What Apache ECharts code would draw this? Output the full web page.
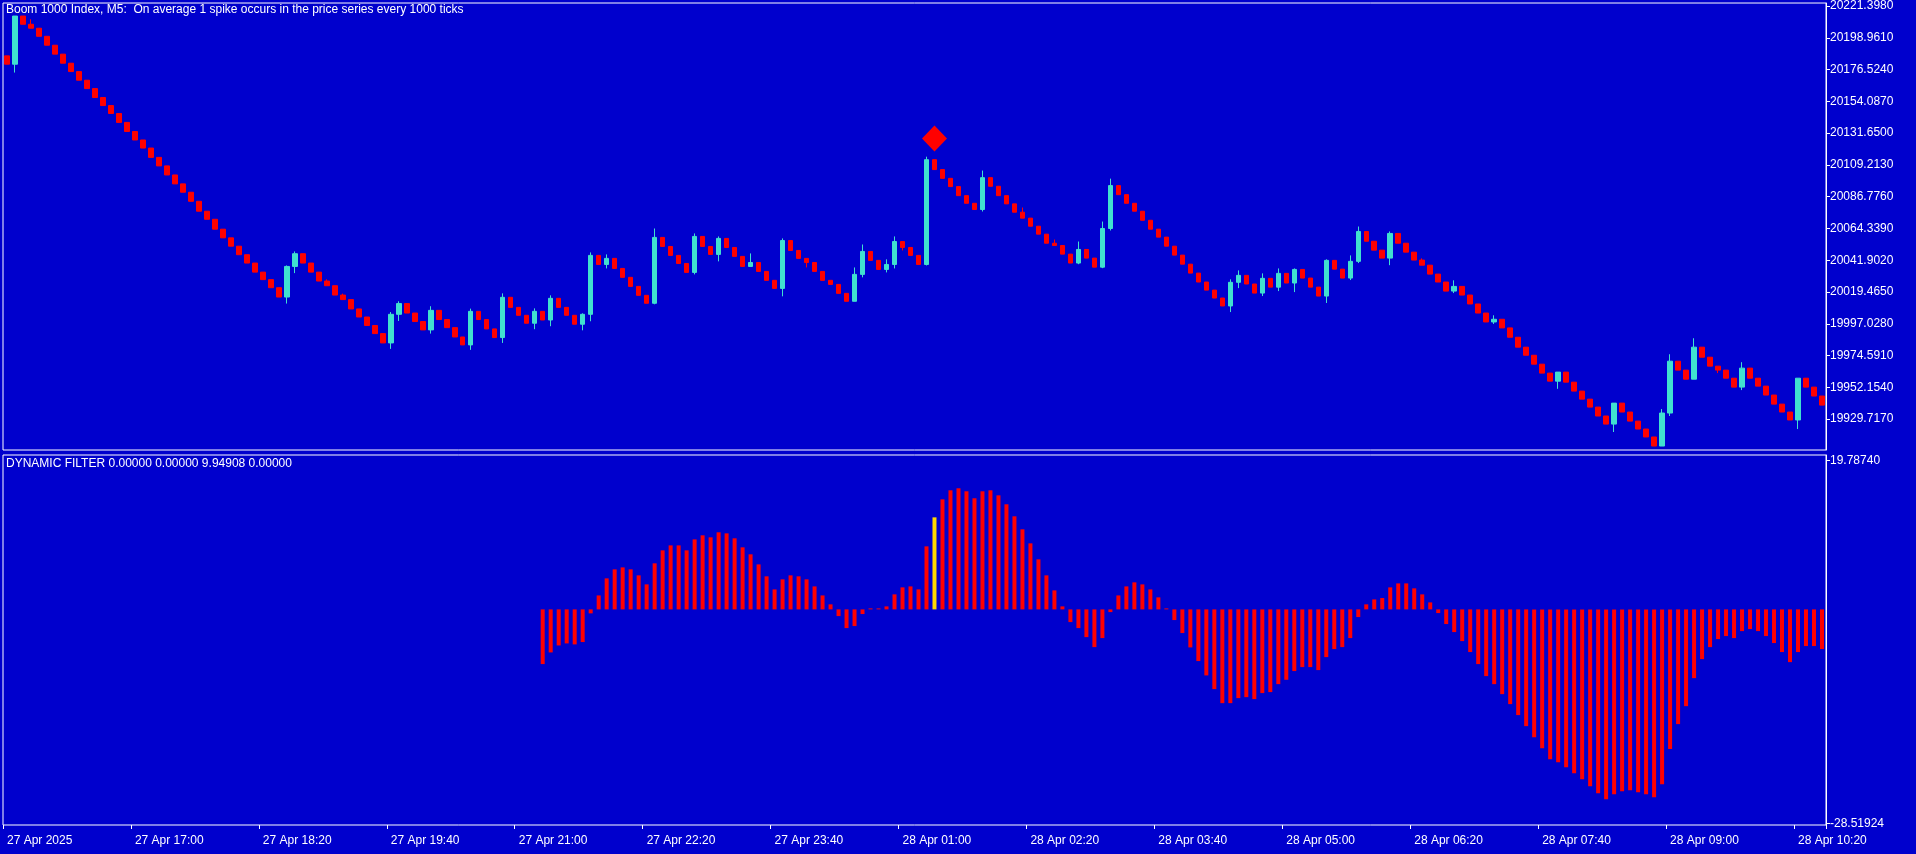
<!DOCTYPE html>
<html>
<head>
<meta charset="utf-8">
<script src="https://cdn.jsdelivr.net/npm/echarts@6/dist/echarts.min.js"></script>
<style>
html, body { margin: 0; padding: 0; background: #0000cd; }
#chart { width: 1916px; height: 854px; }
</style>
</head>
<body>
<div id="chart"></div>
<script>
// Boom 1000 Index M5 candles, 27 Apr 15:40 -> 28 Apr 10:35
var startTime = Date.UTC(2025, 3, 27, 15, 40);
var firstOpen = 20186.2;
var closes = [
    20180.3, 20214.3, 20208.5, 20205.7, 20200.0, 20193.7, 20187.4, 20181.0, 20175.1, 20169.0,
    20163.1, 20156.8, 20151.1, 20145.5, 20139.2, 20132.8, 20126.8, 20121.1, 20114.5, 20108.5,
    20102.1, 20095.8, 20089.9, 20083.5, 20076.5, 20070.8, 20063.8, 20057.7, 20051.8, 20045.8,
    20039.9, 20033.5, 20028.2, 20022.5, 20015.9, 20037.5, 20046.5, 20039.9, 20033.5, 20027.2,
    20023.9, 20017.3, 20014.1, 20007.5, 20001.8, 19995.8, 19990.1, 19983.5, 20003.7, 20011.3,
    20004.6, 19998.6, 19992.7, 20006.5, 20000.0, 19994.3, 19987.7, 19982.1, 20005.8, 20000.0,
    19993.4, 19987.3, 20015.7, 20008.6, 20003.0, 19997.4, 20005.8, 19999.7, 20015.0, 20008.6,
    20003.0, 19996.7, 20003.7, 20045.3, 20038.9, 20043.2, 20036.1, 20029.8, 20023.4, 20017.1,
    20011.5, 20058.0, 20051.6, 20045.3, 20039.6, 20033.3, 20058.7, 20051.6, 20046.0, 20057.3,
    20050.9, 20044.6, 20037.5, 20040.3, 20034.0, 20027.7, 20022.0, 20055.8, 20048.8, 20043.2,
    20040.3, 20034.0, 20027.7, 20024.8, 20018.5, 20012.9, 20031.9, 20048.1, 20041.8, 20035.4,
    20038.9, 20055.1, 20050.9, 20045.3, 20038.9, 20112.9, 20105.9, 20099.7, 20093.9, 20087.5,
    20082.1, 20077.7, 20100.2, 20094.1, 20087.5, 20081.7, 20075.8, 20071.6, 20065.9, 20060.3,
    20053.9, 20052.3, 20046.2, 20039.9, 20049.5, 20043.4, 20037.0, 20064.3, 20094.6, 20088.2,
    20082.1, 20076.5, 20070.1, 20063.8, 20058.2, 20051.8, 20045.5, 20039.1, 20032.8, 20026.5,
    20020.8, 20015.2, 20009.6, 20026.3, 20031.2, 20025.1, 20018.7, 20029.1, 20022.9, 20032.6,
    20025.8, 20035.4, 20029.3, 20022.9, 20016.6, 20041.8, 20035.6, 20029.3, 20041.1, 20062.2,
    20055.3, 20049.0, 20043.4, 20060.8, 20053.9, 20047.6, 20042.0, 20038.4, 20032.1, 20026.5,
    20020.1, 20023.4, 20017.3, 20011.0, 20004.6, 19998.3, 20000.2, 19994.1, 19987.5, 19980.5,
    19974.8, 19968.5, 19962.2, 19956.5, 19962.9, 19955.8, 19949.5, 19943.8, 19938.2, 19931.9,
    19926.2, 19941.0, 19934.7, 19928.3, 19922.7, 19917.1, 19910.7, 19934.0, 19970.6, 19964.3,
    19957.9, 19980.5, 19973.4, 19967.1, 19964.3, 19958.6, 19952.3, 19965.7, 19958.6, 19953.0,
    19946.7, 19940.3, 19934.7, 19929.1, 19958.6, 19952.3, 19946.0, 19939.6
];
// wick extremes beyond the body, by bar index
var wickHighs = {
    3: 20212.0, 35: 20038.2, 36: 20048.1, 40: 20028.4, 42: 20018.3, 48: 20005.3, 49: 20012.9,
    53: 20009.4, 58: 20007.7, 62: 20018.5, 66: 20007.9, 68: 20017.1, 72: 20004.4, 73: 20047.4,
    75: 20046.0, 81: 20064.3, 86: 20060.8, 89: 20058.7, 93: 20046.7, 97: 20057.3, 106: 20036.8,
    107: 20053.0, 110: 20042.5, 111: 20058.7, 115: 20115.0, 122: 20105.2, 127: 20079.1,
    131: 20056.5, 134: 20055.1, 137: 20069.2, 138: 20099.5, 153: 20028.4, 154: 20034.7,
    157: 20032.6, 159: 20036.1, 161: 20036.1, 165: 20042.5, 168: 20045.3, 169: 20065.7,
    173: 20062.2, 177: 20043.2, 181: 20027.7, 186: 20003.0, 207: 19936.8, 208: 19975.5,
    211: 19986.8, 217: 19969.9
};
var wickLows = {
    1: 20174.4, 35: 20011.3, 36: 20032.8, 48: 19979.3, 49: 19999.0, 53: 19990.1, 58: 19978.6,
    62: 19983.5, 66: 19993.2, 68: 19995.3, 72: 19992.4, 73: 19998.8, 75: 20036.1, 81: 20010.8,
    86: 20031.9, 89: 20041.1, 97: 20016.4, 100: 20036.8, 107: 20029.8, 110: 20033.3,
    111: 20036.1, 112: 20048.8, 115: 20038.2, 122: 20076.3, 134: 20039.1, 137: 20036.3,
    138: 20062.9, 153: 20005.3, 154: 20022.2, 157: 20016.6, 159: 20020.1, 161: 20019.4,
    165: 20011.7, 168: 20027.9, 169: 20039.9, 173: 20038.4, 181: 20018.7, 186: 19996.9,
    194: 19951.1, 201: 19920.6, 208: 19931.9, 214: 19962.2, 217: 19950.2, 224: 19922.7
};
var spikeSignal = [116, 20127.9];

// DYNAMIC FILTER histogram, starts at bar 67
var filterStart = 67;
var filterValues = [
    -7.28, -5.73, -4.80, -4.53, -4.66, -4.35, -0.53, 1.86, 4.13, 5.33,
    5.59, 5.33, 4.53, 3.33, 6.13, 7.86, 8.52, 8.52, 7.86, 9.32,
    9.86, 9.59, 10.26, 10.12, 9.46, 8.26, 7.33, 5.99, 4.40, 2.66,
    4.00, 4.53, 4.40, 4.00, 3.06, 1.86, 0.67, -0.89, -2.49, -2.22,
    -0.62, 0.13, 0.13, 0.40, 2.00, 2.93, 3.06, 2.66, 8.39, 12.25,
    14.65, 15.85, 16.12, 15.72, 14.79, 15.72, 15.85, 15.18, 13.99, 12.39,
    10.66, 8.79, 6.66, 4.53, 2.53, 0.40, -1.69, -2.49, -3.69, -5.02,
    -3.82, -0.36, 1.86, 3.06, 3.60, 3.33, 2.66, 1.60, 0.13, -1.42,
    -3.15, -5.06, -6.88, -8.79, -10.61, -12.48, -12.48, -11.81, -11.68, -11.94,
    -11.14, -11.01, -9.95, -9.37, -8.21, -7.68, -7.68, -8.08, -6.35, -5.28,
    -5.02, -3.82, -1.02, 0.67, 1.33, 1.51, 2.93, 3.46, 3.46, 2.80,
    2.00, 0.93, -0.49, -1.95, -3.02, -4.22, -5.68, -7.28, -8.88, -9.95,
    -11.28, -12.61, -14.07, -15.54, -17.01, -18.47, -19.94, -20.34, -21.00, -21.80,
    -22.60, -23.53, -24.46, -25.26, -24.60, -24.20, -24.06, -24.33, -24.60, -25.00,
    -23.27, -18.60, -15.27, -12.88, -9.15, -6.62, -5.02, -3.95, -3.55, -3.82,
    -2.89, -2.62, -2.89, -3.55, -4.48, -5.68, -7.02, -5.68, -4.88, -4.88,
    -5.28
];
var signalBar = 116;

var priceTicks = [20221.398, 20198.961, 20176.524, 20154.087, 20131.65, 20109.213, 20086.776,
    20064.339, 20041.902, 20019.465, 19997.028, 19974.591, 19952.154, 19929.717];
var filterTicks = [19.7874, -28.51924];

var months = ['Jan','Feb','Mar','Apr','May','Jun','Jul','Aug','Sep','Oct','Nov','Dec'];
function pad(n) { return n < 10 ? '0' + n : '' + n; }

var times = [];
var candles = [];
for (var i = 0; i < closes.length; i++) {
    times.push(startTime + i * 5 * 60000);
    var o = i === 0 ? firstOpen : closes[i - 1];
    var c = closes[i];
    var hi = Math.max(o, c, wickHighs[i] || -Infinity);
    var lo = Math.min(o, c, wickLows[i] || Infinity);
    candles.push([o, c, lo, hi]);
}
var filterData = times.map(function (t, i) {
    var v = i >= filterStart ? filterValues[i - filterStart] : '-';
    if (i === signalBar) return { value: v, itemStyle: { color: '#ffd700' } };
    return v;
});

function timeLabel(v, idx) {
    var d = new Date(+v);
    if (idx === 0) return d.getUTCDate() + ' ' + months[d.getUTCMonth()] + ' ' + d.getUTCFullYear();
    return d.getUTCDate() + ' ' + months[d.getUTCMonth()] + ' ' + pad(d.getUTCHours()) + ':' + pad(d.getUTCMinutes());
}

var chart = echarts.init(document.getElementById('chart'));

chart.setOption({
    backgroundColor: '#0000cd',
    animation: false,
    grid: [
        { left: 3, top: 2, width: 1823, height: 448, show: true, borderColor: '#ffffff', borderWidth: 1 },
        { left: 3, top: 455, width: 1823, height: 370, show: true, borderColor: '#ffffff', borderWidth: 1 }
    ],
    xAxis: [
        { type: 'category', gridIndex: 0, data: times, show: false },
        {
            type: 'category', gridIndex: 1, data: times, position: 'bottom',
            axisLine: { show: false, onZero: false },
            axisTick: { show: true, interval: 15, length: 4, lineStyle: { color: '#ffffff' } },
            axisLabel: {
                interval: 15, align: 'left', color: '#ffffff', fontSize: 12,
                fontFamily: 'Liberation Sans', margin: 10, formatter: timeLabel
            }
        }
    ],
    yAxis: [
        {
            type: 'value', gridIndex: 0, position: 'right', min: 19907.9, max: 20223.5,
            splitLine: { show: false },
            axisLine: { show: true, lineStyle: { color: '#ffffff' } },
            axisTick: { show: true, length: 4, customValues: priceTicks, lineStyle: { color: '#ffffff' } },
            axisLabel: {
                customValues: priceTicks, color: '#ffffff', fontSize: 12, fontFamily: 'Liberation Sans',
                margin: 4, formatter: function (v) { return v.toFixed(4); }
            }
        },
        {
            type: 'value', gridIndex: 1, position: 'right', min: -28.70, max: 20.55,
            splitLine: { show: false },
            axisLine: { show: true, lineStyle: { color: '#ffffff' } },
            axisTick: { show: true, length: 4, customValues: filterTicks, lineStyle: { color: '#ffffff' } },
            axisLabel: {
                customValues: filterTicks, color: '#ffffff', fontSize: 12, fontFamily: 'Liberation Sans',
                margin: 4, formatter: function (v) { return v.toFixed(5); }
            }
        }
    ],
    series: [
        {
            type: 'candlestick', xAxisIndex: 0, yAxisIndex: 0, data: candles, barWidth: 5,
            itemStyle: { color: '#40e0d0', color0: '#ff0000', borderColor: '#40e0d0', borderColor0: '#ff0000', borderWidth: 1 }
        },
        {
            type: 'scatter', xAxisIndex: 0, yAxisIndex: 0, data: [spikeSignal],
            symbol: 'diamond', symbolSize: [25, 26], itemStyle: { color: '#ff0000', opacity: 1 }
        },
        {
            type: 'bar', xAxisIndex: 1, yAxisIndex: 1, data: filterData, barWidth: 4,
            itemStyle: { color: '#ff0000' }
        }
    ],
    graphic: [
        { type: 'text', left: 6, top: 4, style: { text: 'Boom 1000 Index, M5:  On average 1 spike occurs in the price series every 1000 ticks', fill: '#ffffff', font: '12px "Liberation Sans"' } },
        { type: 'text', left: 6, top: 458, style: { text: 'DYNAMIC FILTER 0.00000 0.00000 9.94908 0.00000', fill: '#ffffff', font: '12px "Liberation Sans"' } }
    ]
});
</script>
</body>
</html>
